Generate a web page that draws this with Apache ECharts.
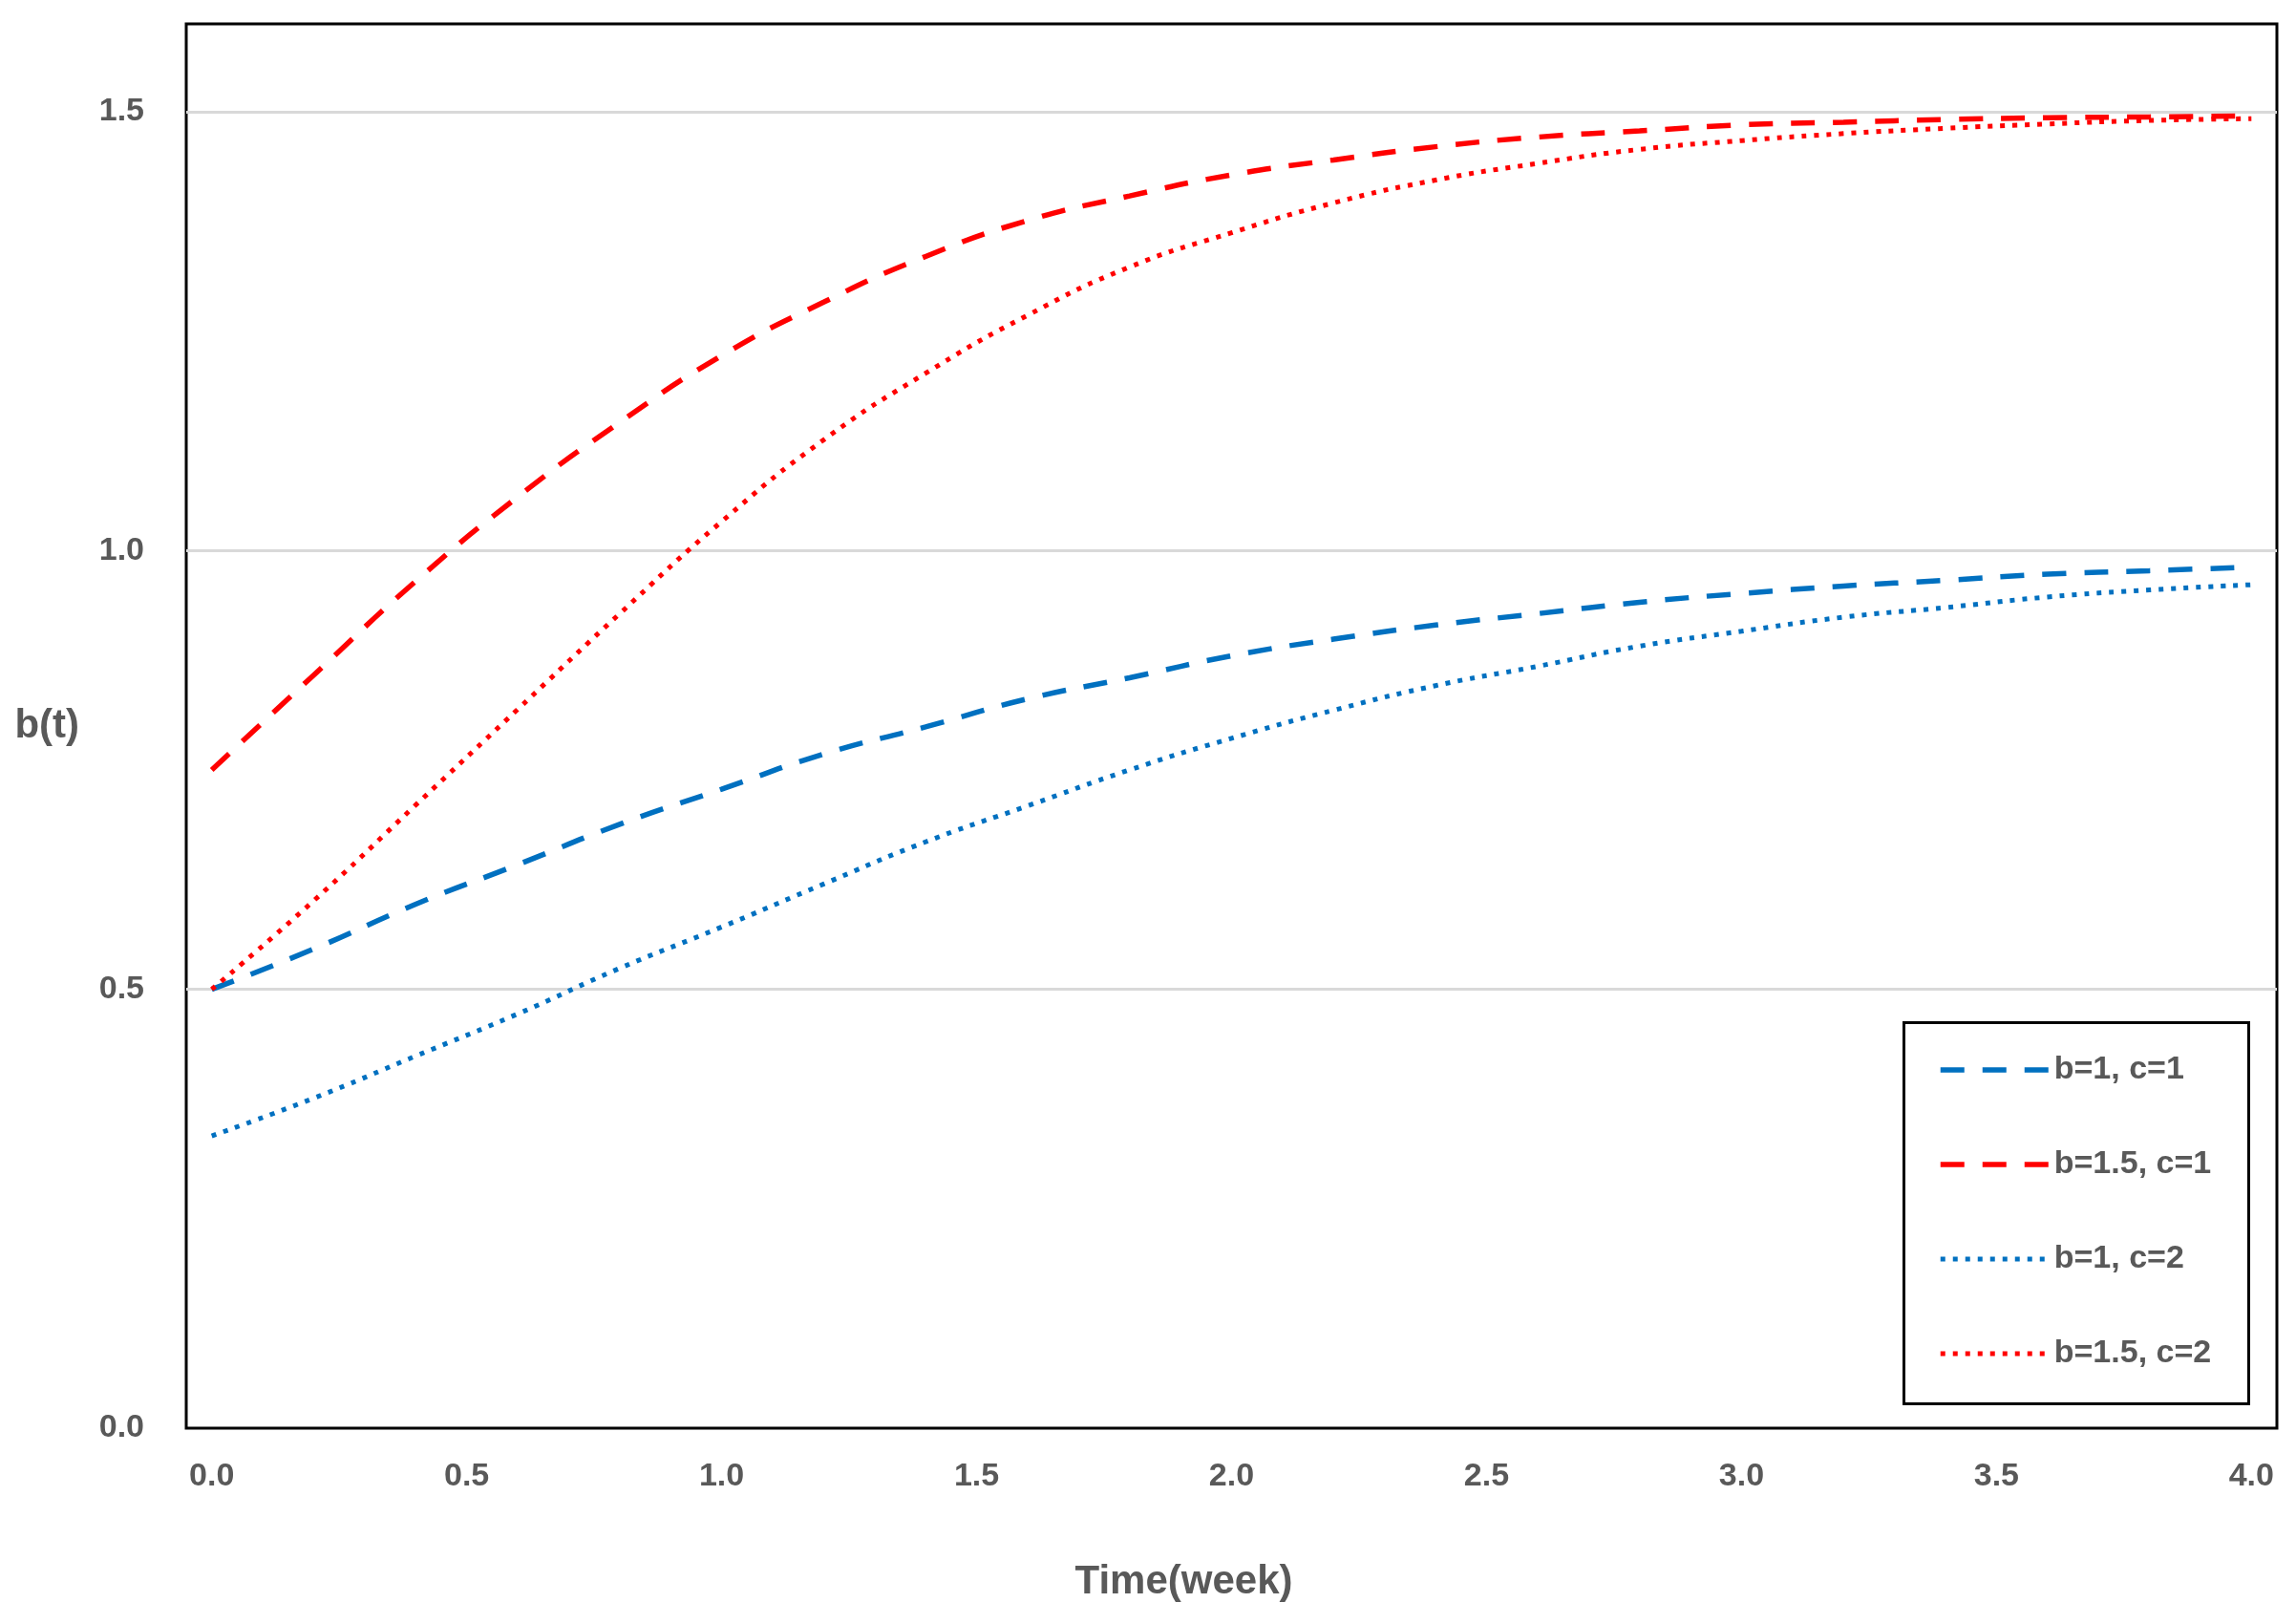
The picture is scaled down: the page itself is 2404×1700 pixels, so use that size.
<!DOCTYPE html>
<html>
<head>
<meta charset="utf-8">
<script src="https://cdn.jsdelivr.net/npm/echarts@6/dist/echarts.min.js"></script>
<style>
html,body{margin:0;padding:0;background:#fff;}
#chart{width:2404px;height:1700px;}
</style>
</head>
<body>
<div id="chart"></div>
<script>
// Time in weeks
var times = [0.0,0.2,0.4,0.6,0.8,1.0,1.2,1.4,1.6,1.8,2.0,2.2,2.4,2.6,2.8,3.0,3.2,3.4,3.6,3.8,4.0];
// b=1, c=1 (blue dashed)
var b1c1 = [0.500,0.546,0.597,0.642,0.688,0.728,0.768,0.799,0.831,0.855,0.880,0.899,0.915,0.928,0.941,0.951,0.9595,0.966,0.973,0.977,0.981];
// b=1.5, c=1 (red dashed)
var b15c1 = [0.750,0.858,0.965,1.061,1.146,1.222,1.283,1.335,1.376,1.404,1.428,1.445,1.460,1.471,1.478,1.485,1.488,1.491,1.493,1.494,1.495];
// b=1, c=2 (blue dotted)
var b1c2 = [0.333,0.376,0.424,0.472,0.524,0.571,0.620,0.668,0.709,0.750,0.786,0.818,0.846,0.868,0.891,0.908,0.924,0.935,0.947,0.955,0.961];
// b=1.5, c=2 (red dotted)
var b15c2 = [0.500,0.601,0.710,0.819,0.928,1.033,1.126,1.202,1.268,1.323,1.362,1.396,1.422,1.441,1.457,1.467,1.475,1.481,1.486,1.490,1.492];

var seriesNames = ['b=1, c=1','b=1.5, c=1','b=1, c=2','b=1.5, c=2'];
var xTickValues = [0,0.5,1,1.5,2,2.5,3,3.5,4];
var xTitle = 'Time(week)';
var yTitle = 'b(t)';

function pairs(vals){ return times.map(function(t,i){ return [t, vals[i]]; }); }

var FONT = 'Liberation Sans';
var TXT = '#595959';
var BLUE = '#0070C0';
var RED = '#FF0000';

var chart = echarts.init(document.getElementById('chart'), null, {renderer:'canvas'});
var dashStyle = function(c){ return {color:c, width:5.5, type:[25,19], cap:'butt'}; };
var dotStyle = function(c){ return {color:c, width:5, type:[5,8], cap:'butt'}; };

chart.setOption({
  animation:false,
  backgroundColor:'#fff',
  grid:{left:195, top:25, right:20, bottom:205, show:true, borderColor:'#000', borderWidth:3, backgroundColor:'transparent'},
  xAxis:{
    type:'value', min:-0.05, max:4.05,
    name:xTitle, nameLocation:'middle', nameGap:140,
    nameTextStyle:{fontFamily:FONT, fontWeight:'bold', fontSize:42, color:TXT, padding:[0,100,0,0]},
    axisLine:{show:false}, axisTick:{show:false}, splitLine:{show:false},
    axisLabel:{customValues:xTickValues, margin:34, fontFamily:FONT, fontWeight:'bold', fontSize:34, color:TXT,
      formatter:function(v){ return Number(v).toFixed(1); }}
  },
  yAxis:{
    type:'value', min:0, max:1.6, interval:0.5,
    name:yTitle, nameLocation:'middle', nameRotate:0, nameGap:112,
    nameTextStyle:{fontFamily:FONT, fontWeight:'bold', fontSize:42, color:TXT},
    axisLine:{show:false}, axisTick:{show:false},
    splitLine:{show:true, showMinLine:false, showMaxLine:false, lineStyle:{color:'#D9D9D9', width:3}},
    axisLabel:{showMaxLabel:false, margin:44, fontFamily:FONT, fontWeight:'bold', fontSize:34, color:TXT,
      formatter:function(v){ return Number(v).toFixed(1); }}
  },
  legend:{
    orient:'vertical', left:2029, top:1103, padding:0,
    itemWidth:114, itemHeight:14, itemGap:65,
    itemStyle:{opacity:0},
    lineStyle:{width:'inherit'},
    textStyle:{fontFamily:FONT, fontWeight:'bold', fontSize:34, lineHeight:34, color:TXT, padding:[0,0,0,0]},
    data:seriesNames
  },
  graphic:[{type:'rect', left:1992, top:1069, shape:{width:361, height:399},
    style:{fill:'transparent', stroke:'#000', lineWidth:3}, z:10}],
  series:[
    {name:seriesNames[0], type:'line', data:pairs(b1c1), smooth:true, symbol:'none', lineStyle:dashStyle(BLUE), itemStyle:{color:BLUE}},
    {name:seriesNames[1], type:'line', data:pairs(b15c1), smooth:true, symbol:'none', lineStyle:dashStyle(RED), itemStyle:{color:RED}},
    {name:seriesNames[2], type:'line', data:pairs(b1c2), smooth:true, symbol:'none', lineStyle:dotStyle(BLUE), itemStyle:{color:BLUE}},
    {name:seriesNames[3], type:'line', data:pairs(b15c2), smooth:true, symbol:'none', lineStyle:dotStyle(RED), itemStyle:{color:RED}}
  ]
});
</script>
</body>
</html>
